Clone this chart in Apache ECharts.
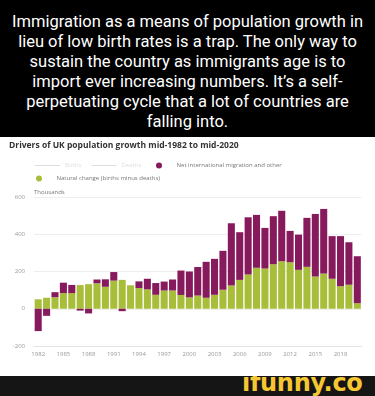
<!DOCTYPE html>
<html>
<head>
<meta charset="utf-8">
<script src="https://cdn.jsdelivr.net/npm/echarts@6/dist/echarts.min.js"></script>
<style>
  html, body { margin: 0; padding: 0; background: #000; }
  #wrap { position: relative; width: 375px; height: 396px; overflow: hidden; background: #000; }
  #caption {
    position: absolute; left: 0; top: 12px; width: 375px;
    text-align: center; color: #fff; font-family: Roboto, sans-serif;
    font-size: 16.5px; line-height: 20px; white-space: nowrap;
  }
  #paper { position: absolute; left: 0; top: 137px; width: 375px; height: 239px; background: #fff; }
  #footer { position: absolute; left: 0; top: 376px; width: 375px; height: 20px; background: #151515; overflow: hidden; }
  #logo {
    position: absolute; left: 242px; top: -7px; color: #f6c633;
    font-family: "DejaVu Sans", sans-serif; font-weight: bold; font-size: 24px; letter-spacing: -0.3px;
  }
  #chart { position: absolute; left: 0; top: 0; width: 375px; height: 396px; }
</style>
</head>
<body>
<div id="wrap">
  <div id="caption">
    Immigration as a means of population growth in<br>
    lieu of low birth rates is a trap. The only way to<br>
    sustain the country as immigrants age is to<br>
    import ever increasing numbers. It’s a self-<br>
    perpetuating cycle that a lot of countries are<br>
    falling into.
  </div>
  <div id="paper"></div>
  <div id="footer"><span id="logo">ifunny.co</span></div>
  <div id="chart"></div>
</div>
<script>
// mid-year, thousands
const years = ['1982', '1983', '1984', '1985', '1986', '1987', '1988', '1989', '1990', '1991',
  '1992', '1993', '1994', '1995', '1996', '1997', '1998', '1999', '2000', '2001',
  '2002', '2003', '2004', '2005', '2006', '2007', '2008', '2009', '2010', '2011',
  '2012', '2013', '2014', '2015', '2016', '2017', '2018', '2019', '2020']

const naturalChange = [51, 59, 62, 84, 84, 127, 132, 137, 118, 151,
  155, 126, 111, 104, 75, 98, 98, 74, 61, 71,
  59, 75, 102, 125, 155, 184, 220, 216, 239, 255,
  250, 209, 225, 173, 189, 161, 121, 129, 30]

const netMigration = [-120, -38, 27, 56, 44, -10, -25, 20, 40, 46,
  -13, 0, 36, 57, 63, 48, 59, 131, 139, 153,
  193, 193, 209, 334, 256, 307, 284, 218, 258, 271,
  168, 189, 263, 336, 347, 229, 269, 228, 252]

// births and deaths lines are switched off in the source chart
const births = []
const deaths = []

const PURPLE = '#861a5c'
const GREEN = '#a8bd3a'
const FONT = '"Open Sans", sans-serif'

const chart = echarts.init(document.getElementById('chart'), null, { renderer: 'canvas' })

const legendText = { color: '#777', fontSize: 6, fontFamily: FONT }

chart.setOption({
  backgroundColor: 'transparent',
  animation: false,
  title: {
    text: 'Drivers of UK population growth mid-1982 to mid-2020',
    left: 4,
    top: 136,
    textStyle: { color: '#333', fontSize: 8.5, fontWeight: 'bold', fontFamily: FONT },
  },
  legend: [
    {
      left: 30,
      top: 157.5,
      itemWidth: 25,
      itemHeight: 1,
      itemGap: 10,
      icon: 'rect',
      data: ['Births', 'Deaths'],
      selected: { Births: false, Deaths: false },
      inactiveColor: '#ddd',
      textStyle: legendText,
    },
    {
      left: 151,
      top: 157.5,
      itemWidth: 25,
      itemHeight: 6,
      data: [{ name: 'Net international migration and other', icon: 'circle' }],
      textStyle: legendText,
    },
    {
      left: 31,
      top: 170.5,
      itemWidth: 25,
      itemHeight: 6,
      data: [{ name: 'Natural change (births minus deaths)', icon: 'circle' }],
      textStyle: legendText,
    },
  ],
  grid: { left: 34, right: 13.5, top: 197, bottom: 50 },
  xAxis: {
    type: 'category',
    data: years,
    axisLine: { onZero: false, lineStyle: { color: '#e4e4e4' } },
    axisTick: { show: false },
    axisLabel: { interval: 2, color: '#999', fontSize: 6, fontFamily: FONT, margin: 5 },
  },
  yAxis: {
    type: 'value',
    min: -200,
    max: 600,
    interval: 200,
    name: 'Thousands',
    nameLocation: 'end',
    nameGap: 2,
    nameTextStyle: { align: 'left', color: '#777', fontSize: 6, fontFamily: FONT },
    axisLine: { show: false },
    axisTick: { show: false },
    axisLabel: { color: '#999', fontSize: 6, fontFamily: FONT, margin: 9 },
    splitLine: { lineStyle: { color: '#eeeeee' } },
  },
  series: [
    {
      name: 'Births',
      type: 'line',
      data: births,
      symbol: 'none',
      itemStyle: { color: '#bbb' },
      lineStyle: { color: '#bbb', width: 1 },
    },
    {
      name: 'Deaths',
      type: 'line',
      data: deaths,
      symbol: 'none',
      itemStyle: { color: '#bbb' },
      lineStyle: { color: '#bbb', width: 1 },
    },
    {
      name: 'Natural change (births minus deaths)',
      type: 'bar',
      stack: 'total',
      data: naturalChange,
      barCategoryGap: '16%',
      itemStyle: { color: GREEN },
    },
    {
      name: 'Net international migration and other',
      type: 'bar',
      stack: 'total',
      data: netMigration,
      barCategoryGap: '16%',
      itemStyle: { color: PURPLE },
    },
  ],
})
</script>
</body>
</html>
